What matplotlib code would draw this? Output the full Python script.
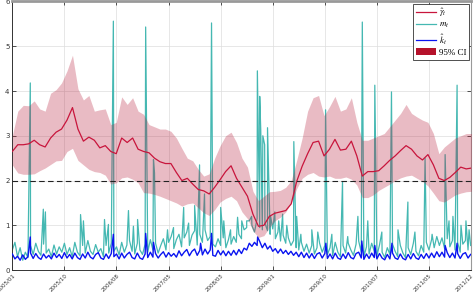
import numpy as np
import matplotlib.pyplot as plt
from matplotlib.patches import Patch
from matplotlib.lines import Line2D

plt.rcParams['mathtext.fontset'] = 'stix'

# x axis: trading-day index, tick every 200 days plus the last day
tick_days = [0, 200, 400, 600, 800, 1000, 1200, 1400, 1600, 1761]
tick_labels = ['2005/01', '2005/10', '2006/08', '2007/05', '2008/03',
               '2009/01', '2009/10', '2010/07', '2011/05', '2011/12']

# smooth estimate and 95% CI, one value every 21 trading days
gamma = [2.65, 2.8, 2.8, 2.82, 2.9, 2.8, 2.75, 2.95, 3.08, 3.15, 3.35, 3.63, 3.15, 2.88, 2.97,
         2.9, 2.73, 2.78, 2.65, 2.6, 2.95, 2.85, 2.95, 2.7, 2.65, 2.62, 2.5, 2.42, 2.38, 2.38,
         2.18, 2.0, 2.05, 1.92, 1.8, 1.77, 1.7, 1.85, 2.02, 2.2, 2.33, 2.05, 1.85, 1.65, 1.25,
         0.98, 1.0, 1.2, 1.27, 1.3, 1.33, 1.48, 1.98, 2.32, 2.6, 2.85, 2.88, 2.55, 2.7, 2.92,
         2.68, 2.7, 2.88, 2.55, 2.1, 2.2, 2.2, 2.22, 2.33, 2.45, 2.55, 2.67, 2.78, 2.7, 2.55,
         2.46, 2.58, 2.35, 2.05, 2.0, 2.07, 2.18, 2.3, 2.26, 2.28]
ci_hi = [3.0, 3.55, 3.68, 3.67, 3.78, 3.6, 3.55, 3.95, 4.03, 4.18, 4.45, 4.8, 4.05, 3.8, 3.9,
         3.55, 3.58, 3.6, 3.25, 3.3, 3.87, 3.7, 3.85, 3.55, 3.48, 3.25, 3.2, 3.15, 3.15, 3.1,
         2.95, 2.72, 2.5, 2.44, 2.25, 2.1, 2.15, 2.5, 2.78, 3.0, 3.08, 2.85, 2.5, 2.3, 1.76,
         1.55, 1.65, 1.75, 1.76, 1.78, 1.85, 2.0, 2.45, 2.95, 3.55, 3.85, 3.9, 3.45, 3.65, 3.88,
         3.55, 3.6, 3.85, 3.3, 2.9, 2.9, 2.95, 3.0, 3.05, 3.2, 3.35, 3.5, 3.7, 3.5, 3.42,
         3.35, 3.3, 3.05, 2.6, 2.75, 2.85, 2.95, 3.0, 3.05, 3.05]
ci_lo = [2.35, 2.17, 2.14, 2.14, 2.15, 2.22, 2.28, 2.36, 2.44, 2.45, 2.65, 2.72, 2.45, 2.35, 2.25,
         2.2, 2.18, 2.12, 1.92, 1.95, 2.06, 2.08, 2.03, 1.95, 1.73, 1.72, 1.69, 1.65, 1.6, 1.55,
         1.5, 1.43, 1.48, 1.5, 1.39, 1.28, 1.22, 1.35, 1.52, 1.6, 1.65, 1.55, 1.3, 1.15, 0.88,
         0.73, 0.77, 0.95, 1.1, 1.18, 1.3, 1.5, 1.82, 2.05, 2.14, 2.18, 2.1, 2.08, 2.1, 2.05,
         2.05, 2.08, 2.03, 1.9, 1.62, 1.62, 1.68, 1.78, 1.85, 1.92, 2.0, 2.06, 2.1, 2.12, 2.05,
         1.98, 1.88, 1.72, 1.55, 1.52, 1.6, 1.68, 1.72, 1.75, 1.76]

# k_t and m_t, one value every 10 trading days
k_vals = [0.36, 0.25, 0.31, 0.22, 0.34, 0.24, 0.30, 0.38, 0.26, 0.37, 0.28, 0.24, 0.36, 0.27, 0.33, 0.25, 0.38, 0.28, 0.35, 0.26,
          0.39, 0.27, 0.35, 0.25, 0.38, 0.28, 0.24, 0.36, 0.27, 0.40, 0.29, 0.25, 0.35, 0.39, 0.27, 0.24, 0.36, 0.26, 0.37, 0.30,
          0.36, 0.25, 0.38, 0.27, 0.35, 0.40, 0.28, 0.25, 0.38, 0.27, 0.24, 0.36, 0.28, 0.40, 0.29, 0.37, 0.27, 0.35, 0.41, 0.29,
          0.39, 0.31, 0.37, 0.29, 0.43, 0.32, 0.40, 0.46, 0.32, 0.42, 0.47, 0.33, 0.44, 0.34, 0.47, 0.36, 0.45, 0.33, 0.31, 0.44,
          0.34, 0.43, 0.32, 0.42, 0.33, 0.44, 0.34, 0.46, 0.37, 0.49, 0.45, 0.60, 0.53, 0.62, 0.55, 0.64, 0.50, 0.60, 0.47, 0.54,
          0.42, 0.48, 0.38, 0.47, 0.37, 0.44, 0.35, 0.42, 0.33, 0.40, 0.30, 0.40, 0.28, 0.38, 0.27, 0.37, 0.26, 0.36, 0.39, 0.27,
          0.37, 0.26, 0.36, 0.25, 0.38, 0.27, 0.24, 0.36, 0.26, 0.39, 0.28, 0.25, 0.37, 0.40, 0.27, 0.24, 0.36, 0.26, 0.38, 0.28,
          0.25, 0.37, 0.27, 0.23, 0.35, 0.25, 0.38, 0.27, 0.24, 0.36, 0.26, 0.23, 0.35, 0.25, 0.37, 0.27, 0.24, 0.35, 0.26, 0.37,
          0.27, 0.38, 0.28, 0.41, 0.30, 0.40, 0.29, 0.39, 0.28, 0.38, 0.27, 0.37, 0.26, 0.36, 0.39, 0.27, 0.35]
m_vals = [0.45, 0.62, 0.30, 0.50, 0.22, 0.40, 0.28, 0.55, 0.35, 0.60, 0.42, 0.33, 0.58, 0.38, 0.47, 0.30, 0.56, 0.36, 0.52, 0.40,
          0.60, 0.35, 0.50, 0.30, 0.62, 0.40, 0.32, 0.55, 0.38, 0.66, 0.42, 0.35, 0.57, 0.40, 0.48, 0.30, 0.55, 0.38, 0.60, 0.42,
          0.52, 0.34, 0.62, 0.40, 0.56, 0.66, 0.42, 0.36, 0.60, 0.45, 0.35, 0.58, 0.40, 0.68, 0.45, 0.60, 0.38, 0.55, 0.70, 0.45,
          0.62, 0.75, 0.48, 0.68, 0.80, 0.52, 0.72, 0.85, 0.55, 0.78, 0.88, 0.56, 0.80, 0.62, 0.90, 0.66, 0.75, 0.58, 0.52, 0.70,
          0.55, 0.72, 0.50, 0.68, 0.58, 0.75, 0.62, 0.80, 0.70, 0.90, 0.95, 1.10, 1.00, 0.85, 1.15, 0.95, 0.90, 1.05, 0.88, 0.80,
          0.92, 0.70, 0.85, 0.65, 0.78, 0.60, 0.72, 0.55, 0.66, 0.50, 0.45, 0.62, 0.42, 0.58, 0.38, 0.55, 0.36, 0.50, 0.60, 0.40,
          0.55, 0.35, 0.50, 0.32, 0.62, 0.40, 0.30, 0.55, 0.38, 0.60, 0.45, 0.33, 0.58, 0.65, 0.40, 0.30, 0.52, 0.36, 0.60, 0.42,
          0.32, 0.56, 0.40, 0.28, 0.50, 0.35, 0.58, 0.42, 0.30, 0.55, 0.38, 0.28, 0.50, 0.35, 0.60, 0.42, 0.32, 0.55, 0.40, 0.62,
          0.45, 0.68, 0.50, 0.75, 0.55, 0.72, 0.48, 0.70, 0.52, 0.66, 0.45, 0.62, 0.40, 0.58, 0.66, 0.45, 0.55]

# isolated spikes (trading day, value)
m_spike_days = [69, 119, 127, 262, 273, 354, 369, 388, 446, 465, 481, 512, 542, 546, 596, 619, 658, 677,
                700, 719, 738, 765, 800, 812, 838, 865, 881, 900, 919, 941, 950, 954, 962, 969, 980, 992,
                1008, 1023, 1038, 1054, 1081, 1092, 1108, 1150, 1173, 1203, 1227, 1268, 1288, 1327, 1344,
                1365, 1392, 1419, 1456, 1481, 1519, 1546, 1585, 1612, 1662, 1677, 1692, 1708, 1723, 1742, 1754]
m_spike_vals = [4.18, 1.36, 1.3, 1.24, 1.1, 1.13, 1.02, 5.56, 1.33, 0.98, 1.13, 5.43, 2.47, 2.17, 0.9, 0.95, 1.4, 1.05,
                1.44, 2.35, 1.7, 5.52, 1.4, 1.1, 0.9, 1.18, 1.1, 1.1, 1.2, 4.45, 3.88, 3.13, 3.0, 2.8, 3.18, 1.2,
                1.3, 1.1, 1.25, 1.0, 2.87, 1.2, 0.8, 0.9, 0.85, 3.58, 0.8, 1.97, 0.75, 1.2, 5.54,
                1.1, 4.13, 0.85, 3.98, 0.9, 1.52, 0.85, 2.5, 0.8, 2.58, 1.1, 1.2, 4.13, 1.0, 1.1, 0.9]
k_spike_days = [69, 388, 512, 542, 723, 765, 942, 1204, 1342, 1392, 1458, 1662, 1708]
k_spike_vals = [0.74, 0.8, 0.82, 0.62, 0.6, 0.82, 0.74, 0.6, 0.65, 0.55, 0.6, 0.55, 0.6]

smooth_x = np.arange(len(gamma)) * 21
noisy_x = np.arange(len(k_vals)) * 10


def with_spikes(x, y, sx, sy):
    xs = np.concatenate([x, sx])
    ys = np.concatenate([y, sy])
    order = np.argsort(xs, kind='stable')
    return xs[order], ys[order]


mx, my = with_spikes(noisy_x, m_vals, m_spike_days, m_spike_vals)
kx, ky = with_spikes(noisy_x, k_vals, k_spike_days, k_spike_vals)

red = '#c8153c'
teal = '#45b8b2'
blue = '#0a14f0'

fig = plt.figure(figsize=(4.74, 2.92), dpi=100)
ax = fig.add_axes([0.026, 0.075, 0.968, 0.92])

ax.plot(mx, my, color=teal, lw=0.9, zorder=2)
ax.plot(kx, ky, color=blue, lw=1.0, zorder=3)
ax.fill_between(smooth_x, ci_lo, ci_hi, color='#b8203c', alpha=0.3, lw=0, zorder=4)
ax.plot(smooth_x, gamma, color=red, lw=0.9, zorder=5)
ax.axhline(2, color='#222222', lw=0.8, ls=(0, (5, 3)), zorder=6)

ax.set_xlim(0, 1762)
ax.set_ylim(0, 6)
ax.set_xticks(tick_days)
ax.set_xticklabels(tick_labels, rotation=45, ha='right', rotation_mode='anchor', fontsize=4.0)
ax.set_yticks(range(7))
ax.tick_params(axis='y', labelsize=5, pad=2)
ax.tick_params(direction='in', length=3, width=0.6, top=True, right=True, colors='#333333')
ax.tick_params(axis='x', pad=1.5)
ax.grid(True, color='#dddddd', lw=0.5)
ax.set_axisbelow(True)
for s in ['left', 'bottom']:
    ax.spines[s].set_color('#333333')
    ax.spines[s].set_linewidth(0.7)
ax.spines['top'].set_color('#999999')
ax.spines['top'].set_linewidth(2)
ax.spines['right'].set_color('#999999')
ax.spines['right'].set_linewidth(0.8)

handles = [Line2D([], [], color=red, lw=0.9),
           Line2D([], [], color=teal, lw=0.9),
           Line2D([], [], color=blue, lw=0.9),
           Patch(facecolor='#b5122b', edgecolor='none')]
labels = [r'$\hat{\gamma}_t$', r'$m_t$', r'$\hat{k}_t$', '95% CI']
leg = ax.legend(handles, labels, loc='upper right', fancybox=False, framealpha=1,
                edgecolor='#333333', prop={'family': 'Liberation Serif', 'size': 6.5},
                handlelength=2.2, handleheight=0.9, labelspacing=0.15, borderpad=0.3,
                handletextpad=0.3, borderaxespad=0.25)
leg.get_frame().set_linewidth(0.6)

fig.savefig('out.png', dpi=100)
